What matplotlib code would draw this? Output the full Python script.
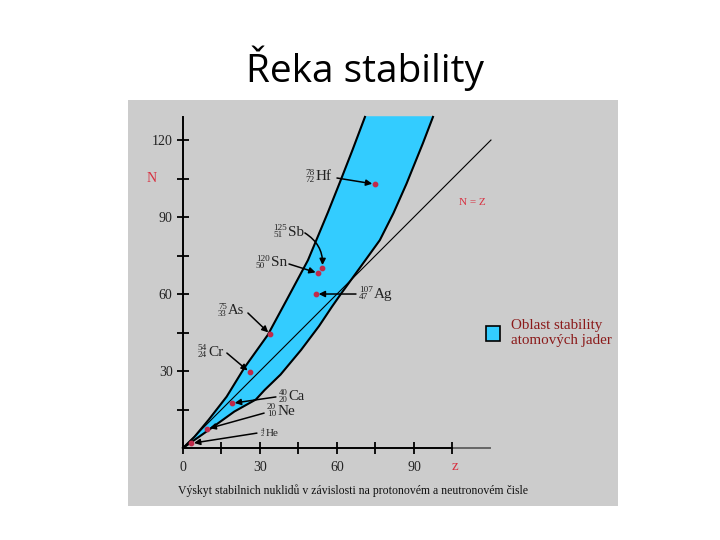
import matplotlib
matplotlib.use("Agg")
import matplotlib.pyplot as plt

SERIF = 'Liberation Serif'

# ---- data (Z = proton number, N = neutron number) ----
upper_z = [0, 4.5, 10, 17, 24, 33, 40.4, 48.7, 56.5, 61, 66, 70.9]
upper_n = [0, 4.4, 11, 20, 31.4, 44, 57.7, 73.2, 91.9, 103.2, 116, 129]
lower_z = [0, 10, 20, 28.4, 31.8, 38, 46, 53, 58, 61.5, 66, 71, 76.7, 82, 87.1, 93.5, 97.4]
lower_n = [0, 7, 14.2, 18.9, 22.6, 28.6, 38.2, 47.5, 55, 60, 66.2, 73.1, 81, 91.5, 103, 118.8, 129]

nz_line = [0, 120]

symbols = ["Hf", "Sb", "Sn", "Ag", "As", "Cr", "Ca", "Ne", "He"]
mass_numbers = ["78", "125", "120", "107", "75", "54", "40", "20", "4"]
atomic_numbers = ["72", "51", "50", "47", "33", "24", "20", "10", "2"]
point_z = [74.8, 54.3, 52.7, 51.8, 34.0, 26.0, 19.1, 9.3, 3.2]
point_n = [102.8, 70.2, 68.1, 60.0, 44.3, 29.5, 17.4, 7.4, 1.8]
label_z = [47.5, 35.1, 28.4, 68.6, 13.6, 5.8, 37.4, 32.7, 30.4]
label_n = [105.6, 84.1, 72.1, 60.0, 53.4, 37.4, 19.9, 14.4, 5.8]
arrow_z = [60.0, 47.5, 41.3, 67.4, 25.3, 17.1, 36.2, 31.6, 28.8]
arrow_n = [105.2, 83.8, 71.7, 60.0, 52.6, 37.0, 19.9, 13.6, 5.8]
symbol_size = [11, 11, 11, 11, 10.5, 11, 10.5, 11, 8]
arrow_rad = [0, -0.3, 0, 0, 0, 0, 0, 0, 0]

x_ticks = [0, 15, 30, 45, 60, 75, 90, 105]
x_tick_labels = ['0', '', '30', '', '60', '', '90', '']
y_ticks = [15, 30, 45, 60, 75, 90, 105, 120]
y_tick_labels = ['', '30', '', '60', '', '90', '', '120']

title = "Řeka stability"
caption = "Výskyt stabilnich nuklidů v závislosti na protonovém a neutronovém čisle"
legend_text = "Oblast stability\natomových jader"

# ---- figure ----
fig = plt.figure(figsize=(7.2, 5.4), dpi=100)
fig.patch.set_facecolor('white')

ax = fig.add_axes([128/720, (540-506)/540, 490/720, 406/540])
ax.set_facecolor('#cccccc')
ax.set_xlim(-21.43, 169.5)
ax.set_ylim(-22.6, 135.6)

band_x = upper_z + lower_z[::-1]
band_y = upper_n + lower_n[::-1]
ax.fill(band_x, band_y, color='#33ccff', zorder=1)
ax.plot(upper_z, upper_n, color='black', lw=1.5, zorder=2)
ax.plot(lower_z, lower_n, color='black', lw=1.5, zorder=2)

ax.plot(nz_line, nz_line, color='black', lw=0.8, zorder=2)

# axes spines through origin
for s in ['top', 'right']:
    ax.spines[s].set_visible(False)
ax.spines['left'].set_position(('data', 0))
ax.spines['bottom'].set_position(('data', 0))
ax.spines['left'].set_bounds(0, 129)
ax.spines['bottom'].set_bounds(0, 105)
ax.spines['left'].set_linewidth(1.4)
ax.spines['bottom'].set_linewidth(1.4)
ax.plot([105, 119.6], [0, 0], color='#666666', lw=1.4, zorder=0.5, clip_on=False)

ax.set_xticks(x_ticks, labels=x_tick_labels)
ax.set_yticks(y_ticks, labels=y_tick_labels)
ax.tick_params(direction='inout', length=9, width=1.3, colors='black',
               labelsize=10, labelcolor='#222222', pad=3)
ax.tick_params(axis='x', pad=5)
for lab in ax.get_xticklabels() + ax.get_yticklabels():
    lab.set_fontfamily(SERIF)

ax.text(-12.1, 105.2, "N", color='#d83040', fontsize=10, family=SERIF, ha='center', va='center')
ax.text(106, -7.3, "z", color='#d83040', fontsize=11, family=SERIF, ha='center', va='center')
ax.text(112.6, 95.8, "N = Z", color='#d83040', fontsize=8, family=SERIF, ha='center', va='center')

# nuclides
ax.scatter(point_z, point_n, s=10, color='#c02a4a', zorder=4)
for sym, a, zn, pz, pn, lz, ln, az, an, fs, rad in zip(symbols, mass_numbers, atomic_numbers,
                                                      point_z, point_n, label_z, label_n,
                                                      arrow_z, arrow_n, symbol_size, arrow_rad):
    nfs = fs * 0.6
    ax.annotate(f"{a}\n{zn}", xy=(lz, ln), xytext=(0, 0.5), textcoords='offset points',
                ha='left', va='center', fontsize=nfs, family=SERIF, color='#222222',
                linespacing=0.85, zorder=5)
    ndig = max(len(a), len(zn))
    ax.annotate(sym, xy=(lz, ln), xytext=(ndig * 0.5 * nfs + 0.8, 0), textcoords='offset points',
                ha='left', va='center', fontsize=fs, family=SERIF, color='#222222', zorder=5)
    ax.annotate('', xy=(pz, pn), xytext=(az, an),
                arrowprops=dict(arrowstyle='-|>', color='black', lw=1.1, mutation_scale=9,
                                shrinkA=0, shrinkB=2, connectionstyle=f"arc3,rad={rad}"),
                zorder=5)

# legend
ax.add_patch(plt.Rectangle(((486 - 183) / 2.567, (448 - 341) / 2.567), 14/2.567, 15/2.567,
                           facecolor='#33ccff', edgecolor='black', lw=1.2, zorder=3))
ax.text((511 - 183) / 2.567, (448 - 333) / 2.567, legend_text, color='#8b1a1a', fontsize=10.8,
        family=SERIF, ha='left', va='center', linespacing=1.2)

fig.text(353/720, 1 - 491/540, caption, family=SERIF, fontsize=8.45, ha='center', va='center',
         color='#111111')
fig.text(365/720, 1 - 68/540, title, family='Open Sans', fontsize=28, ha='center', va='center',
         color='black')

fig.savefig('out.png', dpi=100)
